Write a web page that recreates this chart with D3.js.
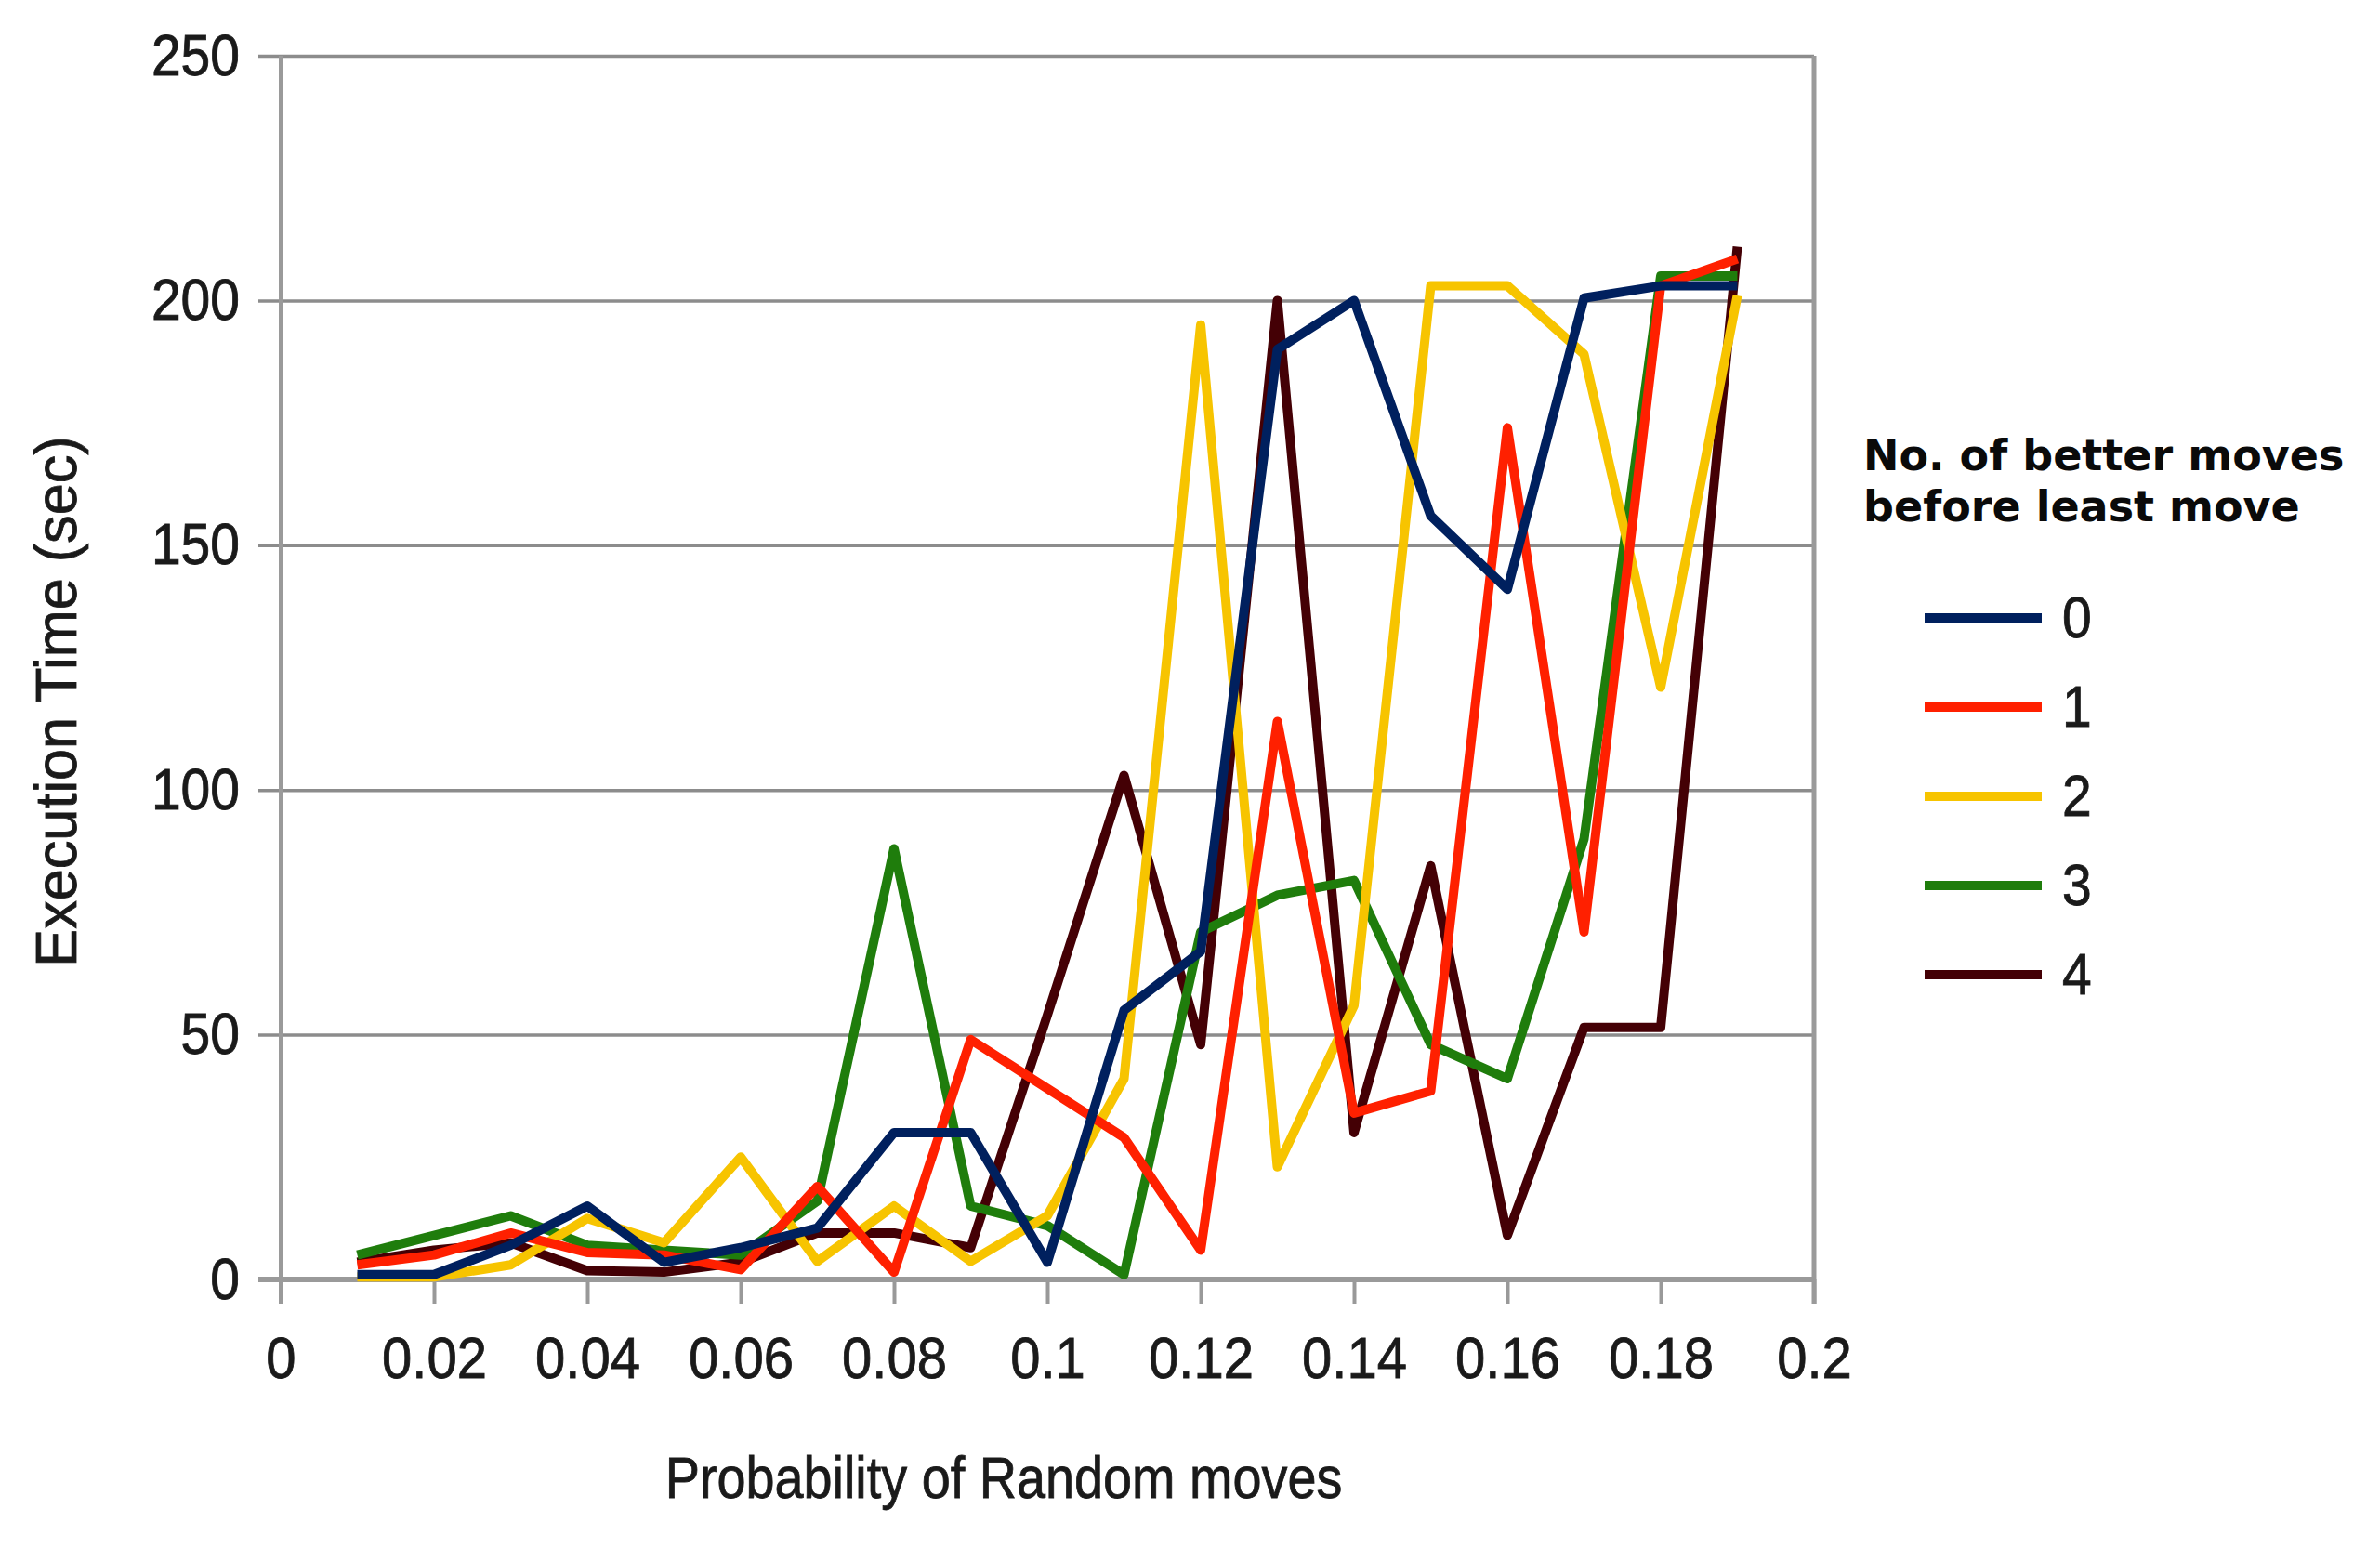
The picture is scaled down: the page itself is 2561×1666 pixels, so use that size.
<!DOCTYPE html>
<html>
<head>
<meta charset="utf-8">
<script src="https://cdn.jsdelivr.net/npm/d3@7"></script>
<style>
  body { margin: 0; background: #fff; }
  svg { display: block; }
  .lbl { font-family: "Liberation Sans", Arial, sans-serif; fill: #1a1a1a; stroke: #1a1a1a; stroke-width: 0.8px; }
</style>
</head>
<body>
<svg id="chart" width="2561" height="1666"></svg>
<script>
"use strict";

// probability of random moves
var probs = [0.01, 0.02, 0.03, 0.04, 0.05, 0.06, 0.07, 0.08, 0.09, 0.1,
  0.11, 0.12, 0.13, 0.14, 0.15, 0.16, 0.17, 0.18, 0.19];

// execution time (sec), one list per "no. of better moves"
var moves0 = [1, 1, 7, 15, 3.5, 6.5, 10.5, 30, 30, 3.5, 55, 67, 190, 200, 156, 141, 200.5, 203, 203];
var moves1 = [3, 5, 9.5, 5.5, 5, 2, 19, 1.5, 49, 39, 29, 6, 114, 34, 38.5, 174, 71, 203, 208.5];
var moves2 = [0.5, 0.5, 3, 12.5, 7.5, 25, 3.7, 15, 3.7, 13, 41, 195, 23, 56, 203, 203, 189, 121, 201];
var moves3 = [5, 9, 13, 7, 6, 5, 16, 88, 15, 11, 1, 71, 78.5, 81.5, 48, 41, 90, 205, 205];
var moves4 = [3.5, 6, 7.5, 1.8, 1.5, 3.5, 9.5, 9.5, 6.5, 54, 103, 48, 200, 30, 84.5, 9, 51.5, 51.5, 211];

var seriesNames = ["0", "1", "2", "3", "4"];
var yTicks = [0, 50, 100, 150, 200, 250];
var xTicks = [0, 0.02, 0.04, 0.06, 0.08, 0.1, 0.12, 0.14, 0.16, 0.18, 0.2];

var series = [moves0, moves1, moves2, moves3, moves4];
var colors = ["#00205e", "#ff2000", "#f7c400", "#1f7d0c", "#440005"];

var svg = d3.select("#chart"),
  margin = {top: 60, left: 302, right: 609, bottom: 289},
  width = 2561 - margin.left - margin.right,
  height = 1666 - margin.top - margin.bottom
;

var x = d3.scaleLinear().domain([0, 0.2]).range([margin.left, margin.left + width]),
  y = d3.scaleLinear().domain([0, 250]).range([margin.top + height, margin.top]);

// horizontal grid, sticking out a bit to the left of the axis
svg.append("g")
  .attr("transform", "translate(" + (margin.left - 24) + ",0)")
  .call(d3.axisLeft(y).tickValues(yTicks).tickSize(-(width + 24)).tickFormat(""))
  .call(g => g.select(".domain").remove())
  .selectAll("line")
  .attr("stroke", "#8c8c8c")
  .attr("stroke-width", 3.5);

// y labels
svg.append("g")
  .attr("transform", "translate(" + margin.left + ",0)")
  .call(d3.axisLeft(y).tickValues(yTicks).tickSize(0).tickPadding(44))
  .call(g => g.select(".domain").remove())
  .selectAll("text")
  .attr("class", "lbl")
  .attr("transform", "scale(1,1.1)")
  .style("font-size", "57px");

// x axis
var xAxis = svg.append("g")
  .attr("transform", "translate(0," + (margin.top + height) + ")")
  .call(d3.axisBottom(x).tickValues(xTicks).tickSize(26).tickPadding(29).tickFormat(d3.format("~g")));
xAxis.select(".domain").remove();
xAxis.selectAll("line").attr("stroke", "#999").attr("stroke-width", 4);
xAxis.selectAll("text")
  .attr("class", "lbl")
  .attr("transform", "scale(1,1.1)")
  .style("font-size", "58px");

// axis lines and right border
svg.append("line")
  .attr("x1", x(0) - 24).attr("x2", x(0.2))
  .attr("y1", y(0)).attr("y2", y(0))
  .attr("stroke", "#9a9a9a").attr("stroke-width", 6);
svg.append("line")
  .attr("x1", x(0)).attr("x2", x(0))
  .attr("y1", y(250)).attr("y2", y(0) + 26)
  .attr("stroke", "#9a9a9a").attr("stroke-width", 4);
svg.append("line")
  .attr("x1", x(0.2)).attr("x2", x(0.2))
  .attr("y1", y(250)).attr("y2", y(0) + 26)
  .attr("stroke", "#9a9a9a").attr("stroke-width", 5);

// series lines (last series underneath)
var line = d3.line()
  .x(function(d, i) { return x(probs[i]); })
  .y(function(d) { return y(d); });

for (var s = series.length - 1; s >= 0; s--) {
  svg.append("path")
    .datum(series[s])
    .attr("d", line)
    .attr("fill", "none")
    .attr("stroke", colors[s])
    .attr("stroke-width", 10)
    .attr("stroke-linejoin", "round");
}

// axis titles
svg.append("text")
  .attr("class", "lbl")
  .attr("transform", "translate(82,755) rotate(-90) scale(1.02,1.06)")
  .attr("text-anchor", "middle")
  .style("font-size", "60px")
  .text("Execution Time (sec)");

svg.append("text")
  .attr("class", "lbl")
  .attr("transform", "translate(1080,1612) scale(0.93,1.06)")
  .attr("text-anchor", "middle")
  .style("font-size", "60px")
  .text("Probability of Random moves");

// legend
var legend = svg.append("g");
legend.selectAll(".title")
  .data(["No. of better moves", "before least move"])
  .enter().append("text")
  .attr("x", 2005)
  .attr("y", function(d, i) { return 506 + i * 55; })
  .style("font-family", "DejaVu Sans, Verdana, sans-serif")
  .style("font-weight", "bold")
  .style("font-size", "46px")
  .attr("fill", "#0a0a0a")
  .text(function(d) { return d; });

var item = legend.selectAll(".item")
  .data(seriesNames)
  .enter().append("g")
  .attr("class", "item")
  .attr("transform", function(d, i) { return "translate(0," + (665 + i * 96) + ")"; });

item.append("line")
  .attr("x1", 2071).attr("x2", 2197)
  .attr("stroke", function(d, i) { return colors[i]; })
  .attr("stroke-width", 10);

item.append("text")
  .attr("class", "lbl")
  .attr("x", 2219).attr("y", 19)
  .attr("transform", "scale(1,1.1)")
  .style("font-size", "57px")
  .text(function(d) { return d; });
</script>
</body>
</html>
